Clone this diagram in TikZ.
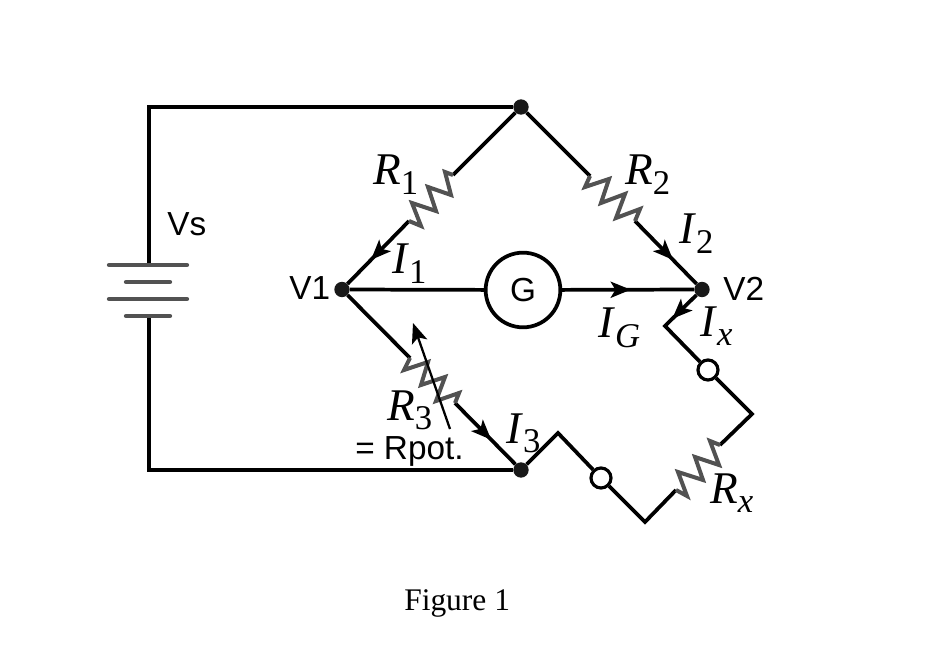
\documentclass[tikz,border=0pt]{standalone}
\usepackage{fontspec}
\setmainfont{Liberation Sans}
\newfontfamily\figserif{Liberation Serif}
\usetikzlibrary{arrows.meta}
\usetikzlibrary{decorations.markings}

% symbol with a lowered subscript
\newcommand{\symb}[2]{{\figserif\fontsize{34}{34}\selectfont\textit{#1}\raisebox{-7pt}{\fontsize{26}{26}\selectfont #2}}}

\tikzset{
  wire/.style={line width=2.8pt, line join=miter},
  res/.style={line width=3pt, color=black!68, line join=miter},
  plate/.style={line width=3.2pt, color=black!68, line cap=round},
  junction/.style={circle, fill=black!90, inner sep=0pt, minimum size=11.5pt},
  terminal/.style={circle, draw, fill=white, line width=2.4pt, inner sep=0pt, minimum size=15pt},
  meter/.style={circle, draw, line width=2.8pt, inner sep=0pt, minimum size=56pt, font=\fontsize{25}{25}\selectfont},
  lab/.style={anchor=base west, inner sep=0pt, font=\fontsize{25}{25}\selectfont},
  current/.style={postaction={decorate}, decoration={markings, mark=at position #1 with {\arrow{>}}}},
  >={Stealth[length=15pt,width=12pt,inset=3.5pt]}
}

\begin{document}
\begin{tikzpicture}[x=0.75pt, y=-0.75pt]
  \useasboundingbox (0,0) rectangle (938,666);

  \node[junction] (top) at (521,107) {};
  \node[junction] (bot) at (521,470) {};
  \node[junction] (vone) at (342,289.5) {};
  \node[junction] (vtwo) at (702,289.5) {};
  \node[meter] (galv) at (523,290) {G};
  \node[terminal] (termx) at (708,370) {};
  \node[terminal] (termb) at (601,478) {};

  \coordinate (cornertl) at (149,107);
  \coordinate (cornerbl) at (149,470);
  \coordinate (battop) at (149,265);
  \coordinate (batbot) at (149,316);
  \coordinate (rone) at (453,175);
  \coordinate (roneb) at (409,221);
  \coordinate (rtwo) at (590,176);
  \coordinate (rtwob) at (635,221);
  \coordinate (rthree) at (410,358);
  \coordinate (rthreeb) at (455,403);
  \coordinate (rxa) at (720,445);
  \coordinate (rxb) at (676,490);
  \coordinate (kneex) at (665,326);
  \coordinate (elbowr) at (752,414);
  \coordinate (elbowb) at (645,522);
  \coordinate (peak) at (558,433);
  \coordinate (pota) at (450,429);
  \coordinate (potb) at (413,323);

  % battery
  \draw[wire] (top) -- (cornertl) -- (battop);
  \draw[wire] (batbot) -- (cornerbl) -- (bot);
  \draw[plate] (109,265) -- (187,265);
  \draw[plate] (126,282) -- (170,282);
  \draw[plate] (109,299) -- (187,299);
  \draw[plate] (126,316) -- (170,316);

  % bridge arms
  \draw[wire] (top) -- (rone);
  \draw[wire,current=0.62] (roneb) -- (vone);
  \draw[wire] (top) -- (rtwo);
  \draw[wire,current=0.62] (rtwob) -- (vtwo);
  \draw[wire] (vone) -- (rthree);
  \draw[wire,current=0.60] (rthreeb) -- (bot);
  \draw[wire] (vone) -- (galv);
  \draw[wire,current=0.52] (galv) -- (vtwo);

  % unknown arm
  \draw[wire,current=0.36] (vtwo) -- (kneex) -- (termx);
  \draw[wire] (termx) -- (elbowr) -- (rxa);
  \draw[wire] (rxb) -- (elbowb) -- (termb);
  \draw[wire] (termb) -- (peak) -- (bot);

  % resistors
  \draw[res] (rone) -- ++(-8,-3) -- ++(6,23) -- ++(-23,-8) -- ++(8,24) -- ++(-24,-8) -- ++(9,23) -- (roneb);
  \draw[res] (rtwo) -- ++(-5,11) -- ++(24,-8) -- ++(-8,24) -- ++(24,-9) -- ++(-9,24) -- ++(24,-9) -- (rtwob);
  \draw[res] (rthree) -- ++(-6,12) -- ++(24,-8) -- ++(-7,23) -- ++(24,-8) -- ++(-9,24) -- ++(23,-8) -- (rthreeb);
  \draw[res] (rxa) -- ++(-10,-4) -- ++(9,24) -- ++(-24,-8) -- ++(8,23) -- ++(-25,-8) -- ++(9,24) -- (rxb);
  \draw[->,line width=1.7pt] (pota) -- (potb);

  % labels
  \node[lab] (labvs) at (167,236) {Vs};
  \node[lab] (labvone) at (289,300) {V1};
  \node[lab] (labvtwo) at (723,301) {V2};
  \node[lab] (labpot) at (355,459) {= Rpot.};
  \node[lab] (labrone) at (373,185) {\symb{R}{1}};
  \node[lab] (labrtwo) at (625,185) {\symb{R}{2}};
  \node[lab] (labrthree) at (387,420) {\symb{R}{3}};
  \node[lab] (labrx) at (710,503) {\symb{R}{\textit{x}}};
  \node[lab] (labione) at (392,274) {\symb{I}{1}};
  \node[lab] (labitwo) at (679,244) {\symb{I}{2}};
  \node[lab] (labithree) at (506,443) {\symb{I}{3}};
  \node[lab] (labig) at (598,338) {\symb{I}{\textit{G}}};
  \node[lab] (labix) at (700,336) {\symb{I}{\textit{x}}};
  \node[lab,font=\figserif\fontsize{23.6}{24}\selectfont] (caption) at (404,610) {Figure 1};
\end{tikzpicture}
\end{document}
